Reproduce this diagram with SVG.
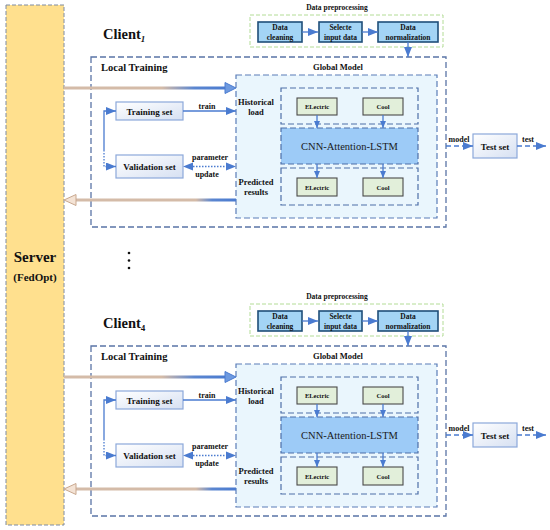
<svg xmlns="http://www.w3.org/2000/svg" width="550" height="530" viewBox="0 0 550 530">
<style>
text{font-family:"Liberation Serif","Times New Roman",serif;font-weight:bold;fill:#111;}
.c{text-anchor:middle;}
text.nw{font-weight:normal;fill:#1a1a1a;}
.outer{fill:none;stroke:#5A74A6;stroke-width:1.3;stroke-dasharray:6 3;}
.gm{fill:#EAF6FD;stroke:#5A7DB8;stroke-width:1.2;stroke-dasharray:6 3;}
.inner{fill:none;stroke:#4D6FA8;stroke-width:1.2;stroke-dasharray:6 3;}
.cnn{fill:#9DCBF7;stroke:#4D6FA8;stroke-width:1.2;stroke-dasharray:6 3;}
.prep{fill:none;stroke:#B3DC96;stroke-width:1;stroke-dasharray:4 2;}
.dp{fill:#A3D4F5;stroke:#1F4E79;stroke-width:1.6;}
.ec{fill:#E2EFDA;stroke:#4a4a4a;stroke-width:1.1;}
.set{fill:url(#setg);stroke:#8CA8DA;stroke-width:1.2;}
.ln{stroke:#4A7BD0;stroke-width:1.3;fill:none;}
.dot{stroke:#4A7BD0;stroke-width:1.3;fill:none;stroke-dasharray:1.5 1.5;}
.dash{stroke:#4A7BD0;stroke-width:1.3;fill:none;stroke-dasharray:5 3;}
</style>
<defs>
<marker id="ah" markerUnits="userSpaceOnUse" markerWidth="10" markerHeight="8" refX="10" refY="4" orient="auto">
<path d="M0,0 L10,4 L0,8 Z" fill="#4A7BD0"/>
</marker>
<marker id="ahs" markerUnits="userSpaceOnUse" markerWidth="7" markerHeight="6" refX="7" refY="3" orient="auto">
<path d="M0,0 L7,3 L0,6 Z" fill="#4A7BD0"/>
</marker>
<linearGradient id="setg" x1="0" y1="0" x2="1" y2="1">
<stop offset="0" stop-color="#FFFFFF"/>
<stop offset="1" stop-color="#D6E0F2"/>
</linearGradient>
<linearGradient id="toR" x1="0" y1="0" x2="1" y2="0">
<stop offset="0" stop-color="#D4BBA8"/>
<stop offset="0.6" stop-color="#D4BBA8"/>
<stop offset="0.8" stop-color="#5B86D0"/>
<stop offset="1" stop-color="#4A7BD0"/>
</linearGradient>
<linearGradient id="toL" x1="0" y1="0" x2="1" y2="0">
<stop offset="0" stop-color="#D4BBA8"/>
<stop offset="0.75" stop-color="#D4BBA8"/>
<stop offset="0.85" stop-color="#5B86D0"/>
<stop offset="1" stop-color="#4A7BD0"/>
</linearGradient>
</defs>
<rect width="550" height="530" fill="#FFFFFF"/>

<g id="server">
<rect x="6" y="5" width="58" height="520" fill="#FFE08E" stroke="#7F8CA3" stroke-width="1" stroke-dasharray="4 2"/>
<text x="35" y="262" class="c" font-size="15">Server</text>
<text x="35" y="281" class="c" font-size="11">(FedOpt)</text>
</g>

<g id="ellipsis" fill="#111">
<circle cx="129" cy="253" r="1.3"/>
<circle cx="129" cy="260.5" r="1.3"/>
<circle cx="129" cy="268" r="1.3"/>
</g>

<!-- CLIENT 1 -->
<g id="client1">
<g id="client1-title"><text x="103" y="39" font-size="14.5">Client<tspan font-size="9" font-style="italic" dy="3">1</tspan></text></g>
<g id="c1-local"><rect class="outer" x="91" y="57" width="355" height="170"/>
<text x="101" y="71" font-size="10.5">Local Training</text></g>
<g id="c1-prep"><rect class="prep" x="250" y="15" width="193" height="32"/>
<text x="337" y="10" class="c" font-size="7.5">Data preprocessing</text></g>
<g id="c1-clean"><rect class="dp" x="258" y="22" width="44" height="20"/>
<text x="280" y="30" class="c" font-size="7.5">Data</text><text x="280" y="39.5" class="c" font-size="7.5">cleaning</text></g>
<g id="c1-select"><rect class="dp" x="319" y="22" width="43" height="20"/>
<text x="340.5" y="30" class="c" font-size="7.5">Selecte</text><text x="340.5" y="39.5" class="c" font-size="7.5">input data</text></g>
<g id="c1-norm"><rect class="dp" x="378" y="22" width="60" height="20"/>
<text x="408" y="30" class="c" font-size="7.5">Data</text><text x="408" y="39.5" class="c" font-size="7.5">normalization</text></g>
<g id="c1-global"><rect class="gm" x="236" y="75" width="201" height="143"/>
<text x="338" y="70" class="c" font-size="8.5">Global Model</text>
<text x="256" y="105" class="c" font-size="8.5">Historical</text><text x="256" y="115" class="c" font-size="8.5">load</text>
<text x="256" y="185" class="c" font-size="8.5">Predicted</text><text x="256" y="195" class="c" font-size="8.5">results</text></g>
<g id="c1-hist"><rect class="inner" x="281" y="88" width="137" height="36"/></g>
<g id="c1-hist-electric"><rect class="ec" x="297" y="98" width="40" height="17"/><text x="317" y="109" class="c" font-size="6.5">ELectric</text></g>
<g id="c1-hist-cool"><rect class="ec" x="363" y="98" width="40" height="17"/><text x="383" y="109" class="c" font-size="6.5">Cool</text></g>
<g id="c1-cnn"><rect class="cnn" x="281" y="128" width="137" height="36"/><text x="349.5" y="150" class="c nw" font-size="10.5">CNN-Attention-LSTM</text></g>
<g id="c1-pred"><rect class="inner" x="281" y="168" width="137" height="37"/></g>
<g id="c1-pred-electric"><rect class="ec" x="297" y="178" width="40" height="18"/><text x="317" y="189.5" class="c" font-size="6.5">ELectric</text></g>
<g id="c1-pred-cool"><rect class="ec" x="363" y="178" width="40" height="18"/><text x="383" y="189.5" class="c" font-size="6.5">Cool</text></g>
<g id="c1-train"><rect class="set" x="116" y="102" width="67" height="18"/><text x="149.5" y="114.5" class="c" font-size="9">Training set</text></g>
<g id="c1-valid"><rect class="set" x="116" y="155" width="67" height="23"/><text x="149.5" y="169.5" class="c" font-size="9">Validation set</text></g>
<g id="c1-test"><rect class="set" x="473" y="134" width="44" height="24"/><text x="495" y="149.5" class="c" font-size="9">Test set</text></g>
<g id="c1-connectors">
<line class="ln" x1="302" y1="32" x2="318" y2="32" marker-end="url(#ah)"/>
<line class="ln" x1="362" y1="32" x2="378" y2="32" marker-end="url(#ah)"/>
<line class="ln" x1="408" y1="42" x2="408" y2="57" marker-end="url(#ah)"/>
<line class="ln" x1="317" y1="115" x2="317" y2="128" marker-end="url(#ahs)"/>
<line class="ln" x1="383" y1="115" x2="383" y2="128" marker-end="url(#ahs)"/>
<line class="ln" x1="317" y1="164" x2="317" y2="178" marker-end="url(#ahs)"/>
<line class="ln" x1="383" y1="164" x2="383" y2="178" marker-end="url(#ahs)"/>
<rect x="64" y="86.5" width="163" height="3" fill="url(#toR)"/>
<path d="M225,82.5 L236,88 L225,93.5 Z" fill="#6E9AE0" stroke="#4A7BD0" stroke-width="1"/>
<rect x="76" y="198.5" width="160" height="3" fill="url(#toL)"/>
<path d="M76,194.5 L64,200 L76,205.5 Z" fill="#F4E3D5" stroke="#C9A88F" stroke-width="1"/>
<line class="ln" x1="183" y1="111" x2="236" y2="111" marker-end="url(#ah)"/>
<text x="207" y="108.5" class="c" font-size="8">train</text>
<path class="ln" d="M104,150 L104,111 L116,111" marker-end="url(#ah)"/>
<path class="dot" d="M104,150 L104,166.5 L116,166.5" marker-end="url(#ah)"/>
<line class="dot" x1="193" y1="166.5" x2="226" y2="166.5"/>
<path d="M183,166.5 L193,162.5 L193,170.5 Z" fill="#4A7BD0"/>
<path d="M236,166.5 L226,162.5 L226,170.5 Z" fill="#4A7BD0"/>
<text x="210" y="160" class="c" font-size="8">parameter</text>
<text x="207" y="177" class="c" font-size="8">update</text>
<line class="dash" x1="446" y1="146" x2="473" y2="146" marker-end="url(#ah)"/>
<text x="459" y="142" class="c" font-size="8">model</text>
<line class="dash" x1="517" y1="146" x2="546" y2="146" marker-end="url(#ah)"/>
<text x="528" y="142" class="c" font-size="8">test</text>
</g>
</g>

<!-- CLIENT 4 -->
<g id="client4" transform="translate(0,289)">
<g id="client4-title"><text x="103" y="39" font-size="14.5">Client<tspan font-size="9" dy="3">4</tspan></text></g>
<g id="c4-local"><rect class="outer" x="91" y="57" width="355" height="170"/>
<text x="101" y="71" font-size="10.5">Local Training</text></g>
<g id="c4-prep"><rect class="prep" x="250" y="15" width="193" height="32"/>
<text x="337" y="10" class="c" font-size="7.5">Data preprocessing</text></g>
<g id="c4-clean"><rect class="dp" x="258" y="22" width="44" height="20"/>
<text x="280" y="30" class="c" font-size="7.5">Data</text><text x="280" y="39.5" class="c" font-size="7.5">cleaning</text></g>
<g id="c4-select"><rect class="dp" x="319" y="22" width="43" height="20"/>
<text x="340.5" y="30" class="c" font-size="7.5">Selecte</text><text x="340.5" y="39.5" class="c" font-size="7.5">input data</text></g>
<g id="c4-norm"><rect class="dp" x="378" y="22" width="60" height="20"/>
<text x="408" y="30" class="c" font-size="7.5">Data</text><text x="408" y="39.5" class="c" font-size="7.5">normalization</text></g>
<g id="c4-global"><rect class="gm" x="236" y="75" width="201" height="143"/>
<text x="338" y="70" class="c" font-size="8.5">Global Model</text>
<text x="256" y="105" class="c" font-size="8.5">Historical</text><text x="256" y="115" class="c" font-size="8.5">load</text>
<text x="256" y="185" class="c" font-size="8.5">Predicted</text><text x="256" y="195" class="c" font-size="8.5">results</text></g>
<g id="c4-hist"><rect class="inner" x="281" y="88" width="137" height="36"/></g>
<g id="c4-hist-electric"><rect class="ec" x="297" y="98" width="40" height="17"/><text x="317" y="109" class="c" font-size="6.5">ELectric</text></g>
<g id="c4-hist-cool"><rect class="ec" x="363" y="98" width="40" height="17"/><text x="383" y="109" class="c" font-size="6.5">Cool</text></g>
<g id="c4-cnn"><rect class="cnn" x="281" y="128" width="137" height="36"/><text x="349.5" y="150" class="c nw" font-size="10.5">CNN-Attention-LSTM</text></g>
<g id="c4-pred"><rect class="inner" x="281" y="168" width="137" height="37"/></g>
<g id="c4-pred-electric"><rect class="ec" x="297" y="178" width="40" height="18"/><text x="317" y="189.5" class="c" font-size="6.5">ELectric</text></g>
<g id="c4-pred-cool"><rect class="ec" x="363" y="178" width="40" height="18"/><text x="383" y="189.5" class="c" font-size="6.5">Cool</text></g>
<g id="c4-train"><rect class="set" x="116" y="102" width="67" height="18"/><text x="149.5" y="114.5" class="c" font-size="9">Training set</text></g>
<g id="c4-valid"><rect class="set" x="116" y="155" width="67" height="23"/><text x="149.5" y="169.5" class="c" font-size="9">Validation set</text></g>
<g id="c4-test"><rect class="set" x="473" y="134" width="44" height="24"/><text x="495" y="149.5" class="c" font-size="9">Test set</text></g>
<g id="c4-connectors">
<line class="ln" x1="302" y1="32" x2="318" y2="32" marker-end="url(#ah)"/>
<line class="ln" x1="362" y1="32" x2="378" y2="32" marker-end="url(#ah)"/>
<line class="ln" x1="408" y1="42" x2="408" y2="57" marker-end="url(#ah)"/>
<line class="ln" x1="317" y1="115" x2="317" y2="128" marker-end="url(#ahs)"/>
<line class="ln" x1="383" y1="115" x2="383" y2="128" marker-end="url(#ahs)"/>
<line class="ln" x1="317" y1="164" x2="317" y2="178" marker-end="url(#ahs)"/>
<line class="ln" x1="383" y1="164" x2="383" y2="178" marker-end="url(#ahs)"/>
<rect x="64" y="86.5" width="163" height="3" fill="url(#toR)"/>
<path d="M225,82.5 L236,88 L225,93.5 Z" fill="#6E9AE0" stroke="#4A7BD0" stroke-width="1"/>
<rect x="76" y="198.5" width="160" height="3" fill="url(#toL)"/>
<path d="M76,194.5 L64,200 L76,205.5 Z" fill="#F4E3D5" stroke="#C9A88F" stroke-width="1"/>
<line class="ln" x1="183" y1="111" x2="236" y2="111" marker-end="url(#ah)"/>
<text x="207" y="108.5" class="c" font-size="8">train</text>
<path class="ln" d="M104,150 L104,111 L116,111" marker-end="url(#ah)"/>
<path class="dot" d="M104,150 L104,166.5 L116,166.5" marker-end="url(#ah)"/>
<line class="dot" x1="193" y1="166.5" x2="226" y2="166.5"/>
<path d="M183,166.5 L193,162.5 L193,170.5 Z" fill="#4A7BD0"/>
<path d="M236,166.5 L226,162.5 L226,170.5 Z" fill="#4A7BD0"/>
<text x="210" y="160" class="c" font-size="8">parameter</text>
<text x="207" y="177" class="c" font-size="8">update</text>
<line class="dash" x1="446" y1="146" x2="473" y2="146" marker-end="url(#ah)"/>
<text x="459" y="142" class="c" font-size="8">model</text>
<line class="dash" x1="517" y1="146" x2="546" y2="146" marker-end="url(#ah)"/>
<text x="528" y="142" class="c" font-size="8">test</text>
</g>
</g>
</svg>
